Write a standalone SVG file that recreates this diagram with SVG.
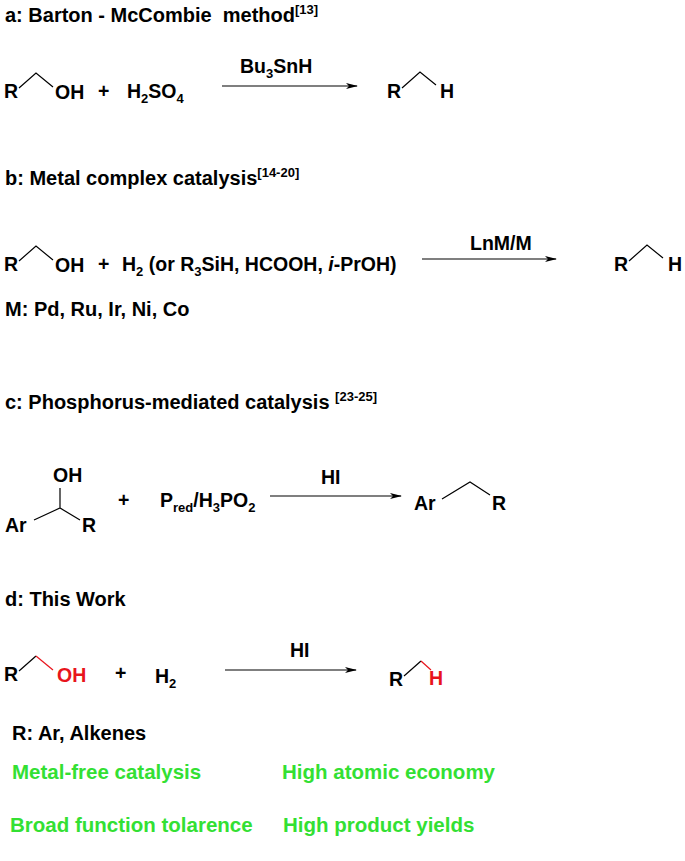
<svg xmlns="http://www.w3.org/2000/svg" width="685" height="861" viewBox="0 0 685 861">
<defs>
<style>
text{font-family:"Liberation Sans",Arial,sans-serif;font-weight:bold;fill:#000}
.t{font-size:20px}
.m{font-size:19.5px}
.s{font-size:13px}
.r{fill:#e8141c}
.g{fill:#33e033;font-size:20.5px}
.b{fill:none;stroke:#000;stroke-width:1.2}
.br{fill:none;stroke:#e8141c;stroke-width:1.2}
.a{stroke:#000;stroke-width:1.2;marker-end:url(#ah)}
</style>
<marker id="ah" markerWidth="12" markerHeight="8" refX="11" refY="4" orient="auto" markerUnits="userSpaceOnUse"><path d="M0,1 L12,4 L0,7 L3,4 Z" fill="#000"/></marker>
</defs>
<rect width="685" height="861" fill="#fff"/>
<g id="titles">
<text class="t" x="5" y="22" xml:space="preserve">a: Barton - McCombie  method<tspan class="s" dy="-8">[13]</tspan></text>
<text class="t" x="5" y="185">b: Metal complex catalysis<tspan class="s" dy="-8">[14-20]</tspan></text>
<text class="t" x="5" y="316">M: Pd, Ru, Ir, Ni, Co</text>
<text class="t" x="5" y="409">c: Phosphorus-mediated catalysis <tspan class="s" dy="-8">[23-25]</tspan></text>
<text class="t" x="5" y="606">d: This Work</text>
<text class="t" x="12" y="740">R: Ar, Alkenes</text>
</g>
<g id="rowA">
<text class="m" x="4" y="98">R</text><path class="b" d="M19,88 L36,73 L53,87"/><text class="m" x="55" y="99">OH</text>
<text class="m" x="98" y="98">+</text>
<text class="m" x="127" y="98">H<tspan class="s" dy="5">2</tspan><tspan dy="-5">SO</tspan><tspan class="s" dy="5">4</tspan></text>
<text class="m" x="240" y="73">Bu<tspan class="s" dy="5">3</tspan><tspan dy="-5">SnH</tspan></text>
<text class="m" x="387" y="98">R</text><path class="b" d="M402,88 L420,72 L436,85"/><text class="m" x="440" y="98">H</text>
</g>
<g id="rowB">
<text class="m" x="4" y="271">R</text><path class="b" d="M19,261 L36,246 L53,260"/><text class="m" x="55" y="272">OH</text>
<text class="m" x="98" y="271">+</text>
<text class="m" x="122" y="271">H<tspan class="s" dy="5">2</tspan><tspan dy="-5"> (or R</tspan><tspan class="s" dy="5">3</tspan><tspan dy="-5">SiH, HCOOH, </tspan><tspan font-style="italic">i</tspan>-PrOH)</text>
<text class="m" x="470" y="250">LnM/M</text>
<text class="m" x="614" y="271">R</text><path class="b" d="M629,261 L647,245 L663,258"/><text class="m" x="668" y="271">H</text>
</g>
<g id="rowC">
<text class="m" x="53" y="482">OH</text><path class="b" d="M60,488 L60,508 M34,520 L60,508 L80,520"/>
<text class="m" x="5" y="532">Ar</text><text class="m" x="82" y="532">R</text>
<text class="m" x="118" y="507">+</text>
<text class="m" x="160" y="507">P<tspan class="s" dy="5">red</tspan><tspan dy="-5">/H</tspan><tspan class="s" dy="5">3</tspan><tspan dy="-5">PO</tspan><tspan class="s" dy="5">2</tspan></text>
<text class="m" x="321" y="484">HI</text>
<text class="m" x="414" y="510">Ar</text><path class="b" d="M442,499 L470,482 L490,495"/><text class="m" x="492" y="510">R</text>
</g>
<g id="rowD">
<text class="m" x="4" y="681">R</text><path class="b" d="M19,671 L36,656"/><path class="br" d="M36,656 L53,670"/><text class="m r" x="57" y="682">OH</text>
<text class="m" x="115" y="680">+</text>
<text class="m" x="155" y="683">H<tspan class="s" dy="5">2</tspan></text>
<text class="m" x="290" y="657">HI</text>
<text class="m" x="389" y="686">R</text><path class="b" d="M404,676 L421,661"/><path class="br" d="M421,661 L431,670"/><text class="m r" x="429" y="685">H</text>
</g>
<g id="features">
<text class="g" x="12" y="779">Metal-free catalysis</text>
<text class="g" x="282" y="779">High atomic economy</text>
<text class="g" x="10" y="832">Broad function tolarence</text>
<text class="g" x="283" y="832">High product yields</text>
</g>
<g id="connectors">
<line class="a" x1="222" y1="86" x2="357" y2="86"/>
<line class="a" x1="422" y1="259" x2="556" y2="259"/>
<line class="a" x1="270" y1="496" x2="401" y2="496"/>
<line class="a" x1="225" y1="670" x2="356" y2="670"/>
</g>
</svg>
